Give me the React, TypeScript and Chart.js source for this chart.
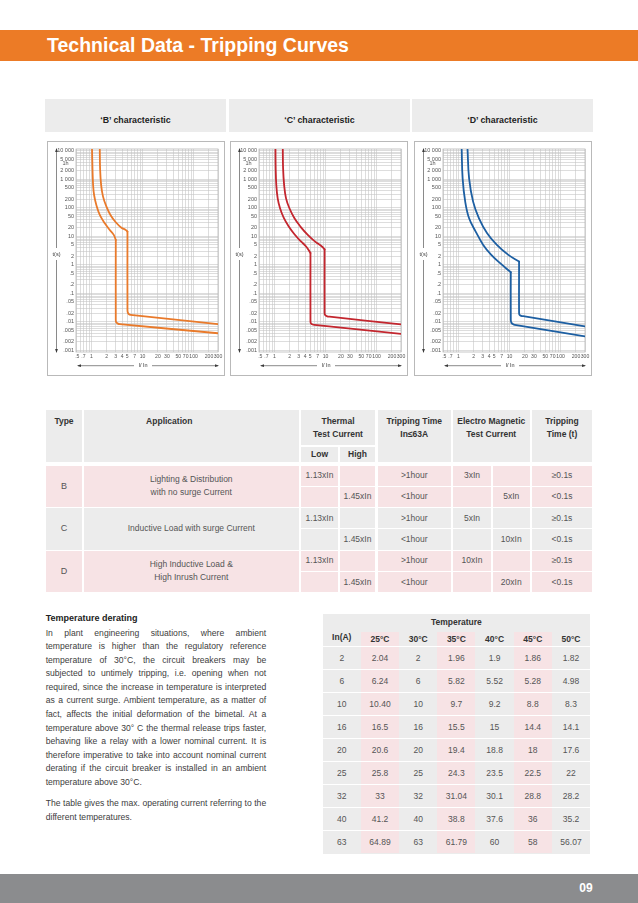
import React, { useEffect, useRef } from 'react';
import { Chart, registerables } from 'chart.js';
Chart.register(...registerables);

const FONT = "'Liberation Sans', Arial, Helvetica, sans-serif";

// ---------- axis tick labels ----------
const xTickValues = [0.5, 0.7, 1, 2, 3, 4, 5, 7, 10, 20, 30, 50, 70, 100, 200, 300];
const xTickText = ['\u2002.5', '.7', '1', '2', '3', '4', '5', '7', '10', '20', '30', '50', '70', '100', '200', '300'];
const yTickValues = [10000, 5000, 3600, 2000, 1000, 500, 200, 100, 50, 20, 10, 5, 2, 1, 0.5, 0.2, 0.1, 0.05, 0.02, 0.01, 0.005, 0.002, 0.001];
const yTickText = ['10 000', '5 000', '1h\u2002\u2002', '2 000', '1 000', '500', '200', '100', '50', '20', '10', '5', '2', '1', '.5', '.2', '.1', '.05', '.02', '.01', '.005', '.002', '.001'];

// ---------- tripping curves (I/In , t in s): thermal part, then magnetic part ----------
const bLowThermX = [1.03, 1.05, 1.08, 1.13, 1.25, 1.46, 1.83, 2.29, 2.74, 3.0];
const bLowThermY = [11000, 2400, 630, 280, 125, 56, 28.6, 16.7, 11.2, 7.5];
const bLowMagX = [3.0, 3.0, 3.06, 3.3, 3.6, 300];
const bLowMagY = [7.5, 0.0117, 0.0097, 0.0087, 0.0083, 0.004];
const bHighThermX = [1.46, 1.48, 1.55, 1.69, 1.97, 2.36, 3.0, 3.87, 4.7, 5.08];
const bHighThermY = [11000, 2400, 630, 245, 109, 56, 31, 20, 16.7, 14.6];
const bHighMagX = [5.08, 5.08, 5.2, 5.6, 6.5, 300];
const bHighMagY = [14.6, 0.026, 0.0205, 0.018, 0.0172, 0.0083];

const cLowThermX = [1.05, 1.06, 1.09, 1.16, 1.29, 1.52, 1.91, 2.47, 3.23, 4.17, 5.08];
const cLowThermY = [11000, 2400, 630, 214, 96, 45, 22, 11.8, 6.9, 4.4, 2.6];
const cLowMagX = [5.08, 5.08, 5.2, 5.6, 6.1, 300];
const cLowMagY = [2.6, 0.0103, 0.0088, 0.0081, 0.0079, 0.0038];
const cHighThermX = [1.46, 1.48, 1.55, 1.69, 1.97, 2.47, 3.23, 4.5, 6.27, 8.5, 9.6];
const cHighThermY = [11000, 2400, 630, 214, 96, 42.7, 21.9, 11.2, 6.5, 4.4, 3.5];
const cHighMagX = [9.6, 9.6, 9.9, 10.8, 12, 300];
const cHighMagY = [3.5, 0.0202, 0.0172, 0.0157, 0.0152, 0.0082];

const dLowThermX = [1.16, 1.21, 1.36, 1.62, 2.18, 3.06, 4.4, 6.56, 10.6];
const dLowThermY = [11000, 1070, 164, 42.7, 14.6, 5.0, 2.23, 1.14, 0.55];
const dLowMagX = [10.6, 10.6, 10.9, 11.8, 12.7, 300];
const dLowMagY = [0.55, 0.0118, 0.0093, 0.0082, 0.0078, 0.0031];
const dHighThermX = [1.51, 1.62, 1.94, 2.53, 3.65, 5.66, 9.5, 15.4];
const dHighThermY = [11000, 1070, 164, 42.7, 12.8, 5.0, 2.23, 1.3];
const dHighMagX = [15.4, 15.4, 15.9, 17.5, 19.8, 300];
const dHighMagY = [1.3, 0.0202, 0.0172, 0.016, 0.0157, 0.0069];

const chartTitles = ['\u2018B\u2019 characteristic', '\u2018C\u2019 characteristic', '\u2018D\u2019 characteristic'];
const curveColors = ['#e97a2b', '#c3262e', '#1d5fa2'];

// ---------- table 1 ----------
const typeNames = ['B', 'C', 'D'];
const applications = [['Lighting & Distribution', 'with no surge Current'], ['Inductive Load with surge Current'], ['High Inductive Load &', 'High Inrush Current']];
const thermalLow = ['1.13xIn', '1.13xIn', '1.13xIn'];
const thermalHigh = ['1.45xIn', '1.45xIn', '1.45xIn'];
const tripThermal = ['>1hour', '<1hour'];
const emLow = ['3xIn', '5xIn', '10xIn'];
const emHigh = ['5xIn', '10xIn', '20xIn'];
const tripEM = ['\u22650.1s', '<0.1s'];

// ---------- temperature table ----------
const ratingsA = ['2', '6', '10', '16', '20', '25', '32', '40', '63'];
const tempHeaders = ['25°C', '30°C', '35°C', '40°C', '45°C', '50°C'];
const derate25 = ['2.04', '6.24', '10.40', '16.5', '20.6', '25.8', '33', '41.2', '64.89'];
const derate30 = ['2', '6', '10', '16', '20', '25', '32', '40', '63'];
const derate35 = ['1.96', '5.82', '9.7', '15.5', '19.4', '24.3', '31.04', '38.8', '61.79'];
const derate40 = ['1.9', '5.52', '9.2', '15', '18.8', '23.5', '30.1', '37.6', '60'];
const derate45 = ['1.86', '5.28', '8.8', '14.4', '18', '22.5', '28.8', '36', '58'];
const derate50 = ['1.82', '4.98', '8.3', '14.1', '17.6', '22', '28.2', '35.2', '56.07'];

const paragraph1 = [
  'In plant engineering situations, where ambient',
  'temperature is higher than the regulatory reference',
  'temperature of 30°C, the circuit breakers may be',
  'subjected to untimely tripping, i.e. opening when not',
  'required, since the increase in temperature is interpreted',
  'as a current surge. Ambient temperature, as a matter of',
  'fact, affects the initial deformation of the bimetal. At a',
  'temperature above 30° C the thermal release trips faster,',
  'behaving like a relay with a lower nominal current. It is',
  'therefore imperative to take into account nominal current',
  'derating if the circuit breaker is installed in an ambient',
  'temperature above 30°C.',
];
const paragraph2 = ['The table gives the max. operating current referring to the', 'different temperatures.'];

// ---------- helpers ----------
const xGrid: number[] = [];
[0.1, 1, 10, 100].forEach((d) => {
  for (let m = 1; m <= 9; m++) {
    const v = +(m * d).toPrecision(4);
    if (v >= 0.5 && v <= 300) xGrid.push(v);
  }
});
const yGrid: number[] = [];
[0.001, 0.01, 0.1, 1, 10, 100, 1000].forEach((d) => {
  for (let m = 1; m <= 9; m++) yGrid.push(+(m * d).toPrecision(4));
});
yGrid.push(10000, 3600);

function lookup(values: number[], texts: string[], v: number) {
  const i = values.findIndex((t) => Math.abs(t - v) <= t * 1e-6);
  return i >= 0 ? texts[i] : '';
}

const framePlugin = {
  id: 'frameArrows',
  beforeDatasetsDraw(chart: any) {
    const { ctx, chartArea: a } = chart;
    ctx.save();
    ctx.strokeStyle = '#b8b8b8';
    ctx.lineWidth = 0.8;
    ctx.strokeRect(a.left, a.top, a.right - a.left, a.bottom - a.top);
    ctx.restore();
  },
  afterDraw(chart: any) {
    const { ctx, chartArea: a } = chart;
    ctx.save();
    ctx.strokeStyle = '#3a3a3a';
    ctx.fillStyle = '#3a3a3a';
    ctx.lineWidth = 0.6;
    const seg = (x1: number, y1: number, x2: number, y2: number) => {
      ctx.beginPath();
      ctx.moveTo(x1, y1);
      ctx.lineTo(x2, y2);
      ctx.stroke();
    };
    const tri = (p: number[][]) => {
      ctx.beginPath();
      ctx.moveTo(p[0][0], p[0][1]);
      ctx.lineTo(p[1][0], p[1][1]);
      ctx.lineTo(p[2][0], p[2][1]);
      ctx.closePath();
      ctx.fill();
    };
    // vertical time arrow
    const ax = 8.5;
    const my = 112;
    seg(ax, a.top, ax, my - 6);
    seg(ax, my + 6, ax, a.bottom);
    tri([[ax, a.top - 1], [ax - 1.4, a.top + 3], [ax + 1.4, a.top + 3]]);
    tri([[ax, a.bottom + 1], [ax - 1.4, a.bottom - 3], [ax + 1.4, a.bottom - 3]]);
    ctx.font = `5.5px ${FONT}`;
    ctx.textAlign = 'center';
    ctx.textBaseline = 'middle';
    ctx.fillText('t(s)', ax, my);
    // horizontal current arrow
    const ay = a.bottom + 13.7;
    const mx = (a.left + a.right) / 2 - 4;
    seg(a.left + 2, ay, mx - 9, ay);
    seg(mx + 9, ay, a.right, ay);
    tri([[a.left + 1, ay], [a.left + 5, ay - 1.4], [a.left + 5, ay + 1.4]]);
    tri([[a.right + 1, ay], [a.right - 3, ay - 1.4], [a.right - 3, ay + 1.4]]);
    ctx.fillText('I/ In', mx, ay);
    ctx.restore();
  },
};

function TripChart(props: { parts: number[][][]; color: string }) {
  const ref = useRef<HTMLCanvasElement>(null);
  useEffect(() => {
    const pts = (xs: number[], ys: number[]) => xs.map((x, i) => ({ x, y: ys[i] }));
    const ds = (xs: number[], ys: number[], tension: number) => ({
      data: pts(xs, ys),
      showLine: true,
      borderColor: props.color,
      backgroundColor: props.color,
      borderWidth: 1.8,
      pointRadius: 0,
      tension,
      fill: false,
      borderCapStyle: 'round',
      borderJoinStyle: 'round',
    });
    const gridColor = (ctx: any) => (ctx.tick && Math.abs(ctx.tick.value - 3600) < 1 ? 'rgba(0,0,0,0)' : '#c6c6c6');
    const datasets = props.parts.map((p, i) => ds(p[0], p[1], i % 2 === 0 ? 0.4 : 0.25));
    const chart = new Chart(ref.current as HTMLCanvasElement, {
      type: 'scatter',
      data: { datasets },
      options: {
        animation: false,
        responsive: false,
        maintainAspectRatio: false,
        devicePixelRatio: 1,
        events: [],
        layout: { padding: { top: 7, right: 6, left: 0, bottom: 0 }, autoPadding: false },
        plugins: { legend: { display: false }, tooltip: { enabled: false }, title: { display: false } },
        scales: {
          x: {
            type: 'logarithmic',
            min: 0.5,
            max: 300,
            afterBuildTicks: (s: any) => {
              s.ticks = xGrid.map((v) => ({ value: v }));
            },
            afterFit: (s: any) => {
              s.height = 23;
              s.paddingLeft = 0;
              s.paddingRight = 0;
            },
            border: { display: false },
            grid: { color: '#c6c6c6', lineWidth: 0.6, drawTicks: false },
            ticks: {
              autoSkip: false,
              maxRotation: 0,
              minRotation: 0,
              padding: 2,
              color: '#555',
              font: { family: FONT, size: 5.1 },
              callback: (v: any) => lookup(xTickValues, xTickText, Number(v)),
            },
          },
          y: {
            type: 'logarithmic',
            min: 0.00088,
            max: 11470,
            afterBuildTicks: (s: any) => {
              s.ticks = yGrid.map((v) => ({ value: v }));
            },
            afterFit: (s: any) => {
              s.width = 28;
              s.paddingTop = 0;
              s.paddingBottom = 0;
            },
            border: { display: false },
            grid: { color: gridColor, lineWidth: 0.6, drawTicks: false },
            ticks: {
              autoSkip: false,
              padding: 2,
              color: '#555',
              font: { family: FONT, size: 5.5 },
              callback: (v: any) => lookup(yTickValues, yTickText, Number(v)),
            },
          },
        },
      } as any,
      plugins: [framePlugin],
    });
    return () => chart.destroy();
  }, []);
  return <canvas ref={ref} width={176} height={233} style={{ position: 'absolute', left: 0, top: 0, width: 176, height: 233 }} />;
}

const abs = (left: number, top: number, width: number, height: number, extra: any = {}) => ({
  position: 'absolute' as const,
  left,
  top,
  width,
  height,
  boxSizing: 'border-box' as const,
  ...extra,
});

const GRAY = '#ececec';
const PINK = '#f7e3e5';

function Cell(props: { x0: number; x1: number; y0: number; y1: number; bg: string; children?: any; style?: any }) {
  const { x0, x1, y0, y1, bg, children, style } = props;
  return (
    <div
      style={abs(x0, y0, x1 - x0, y1 - y0, {
        background: bg,
        display: 'flex',
        flexDirection: 'column',
        alignItems: 'center',
        justifyContent: 'center',
        textAlign: 'center',
        fontSize: 8.5,
        lineHeight: '13px',
        color: '#555',
        ...style,
      })}
    >
      {children}
    </div>
  );
}

export default function App() {
  const headerLefts = [45, 229, 412];
  const headerWidths = [181, 181, 181];
  const boxLefts = [47, 230, 414];
  const curves = [
    [[bLowThermX, bLowThermY], [bLowMagX, bLowMagY], [bHighThermX, bHighThermY], [bHighMagX, bHighMagY]],
    [[cLowThermX, cLowThermY], [cLowMagX, cLowMagY], [cHighThermX, cHighThermY], [cHighMagX, cHighMagY]],
    [[dLowThermX, dLowThermY], [dLowMagX, dLowMagY], [dHighThermX, dHighThermY], [dHighMagX, dHighMagY]],
  ];

  // table 1 geometry
  const C = [[46, 82], [84, 298.5], [301, 338], [340, 375], [378, 450.5], [453, 491], [493, 529.5], [532, 592]];
  const HT = 410, HM = 445, HS = 447, HB = 462;
  const rows = [0, 1, 2, 3, 4, 5].map((i) => [465.5 + 21.3 * i, 465.5 + 21.3 * i + 20.3]);
  const rowBg = [PINK, GRAY, PINK];
  const headStyle = { justifyContent: 'flex-start', paddingTop: 4.5, fontWeight: 700, color: '#333' };

  // temperature table geometry
  const TL = 322.7, TW = 38.2, TT = 614;
  const colsT = [derate25, derate30, derate35, derate40, derate45, derate50];

  return (
    <div style={{ position: 'absolute', left: 0, top: 0, width: 638, height: 903, background: '#fff', fontFamily: FONT, overflow: 'hidden' }}>
      {/* title bar */}
      <div style={abs(0, 30, 638, 31, { background: '#ec7b26' })} />
      <div style={{ position: 'absolute', left: 47, top: 30, height: 31, lineHeight: '31px', fontSize: 19.5, fontWeight: 700, color: '#fff', whiteSpace: 'nowrap' }}>
        Technical Data - Tripping Curves
      </div>

      {/* chart headers */}
      {chartTitles.map((t, i) => (
        <div key={t} style={abs(headerLefts[i], 99, headerWidths[i], 33, { background: GRAY, textAlign: 'center', paddingTop: 15, lineHeight: '12px', fontSize: 8.8, fontWeight: 700, color: '#222' })}>
          {t}
        </div>
      ))}

      {/* charts */}
      {curves.map((c, i) => (
        <div key={i} style={abs(boxLefts[i], 141, 178, 235, { border: '1px solid #b9b9b9' })}>
          <TripChart parts={c} color={curveColors[i]} />
        </div>
      ))}

      {/* table 1 header */}
      <Cell x0={C[0][0]} x1={C[0][1]} y0={HT} y1={HB} bg={GRAY} style={headStyle}>Type</Cell>
      <Cell x0={C[1][0]} x1={C[1][1]} y0={HT} y1={HB} bg={GRAY} style={{ ...headStyle, paddingRight: 44 }}>Application</Cell>
      <Cell x0={C[2][0]} x1={C[3][1]} y0={HT} y1={HM} bg={GRAY} style={headStyle}>
        <div>Thermal</div>
        <div>Test Current</div>
      </Cell>
      <Cell x0={C[2][0]} x1={C[2][1]} y0={HS} y1={HB} bg={GRAY} style={{ fontWeight: 700, color: '#333' }}>Low</Cell>
      <Cell x0={C[3][0]} x1={C[3][1]} y0={HS} y1={HB} bg={GRAY} style={{ fontWeight: 700, color: '#333' }}>High</Cell>
      <Cell x0={C[4][0]} x1={C[4][1]} y0={HT} y1={HB} bg={GRAY} style={headStyle}>
        <div>Tripping Time</div>
        <div>In≤63A</div>
      </Cell>
      <Cell x0={C[5][0]} x1={C[6][1]} y0={HT} y1={HB} bg={GRAY} style={headStyle}>
        <div>Electro Magnetic</div>
        <div>Test Current</div>
      </Cell>
      <Cell x0={C[7][0]} x1={C[7][1]} y0={HT} y1={HB} bg={GRAY} style={headStyle}>
        <div>Tripping</div>
        <div>Time (t)</div>
      </Cell>

      {/* table 1 body */}
      {typeNames.map((tn, k) => {
        const r1 = rows[2 * k], r2 = rows[2 * k + 1];
        const bg = rowBg[k];
        return (
          <React.Fragment key={tn}>
            <Cell x0={C[0][0]} x1={C[0][1]} y0={r1[0]} y1={r2[1]} bg={bg} style={{ fontSize: 9 }}>{tn}</Cell>
            <Cell x0={C[1][0]} x1={C[1][1]} y0={r1[0]} y1={r2[1]} bg={bg}>
              {applications[k].map((l) => <div key={l}>{l}</div>)}
            </Cell>
            <Cell x0={C[2][0]} x1={C[2][1]} y0={r1[0]} y1={r1[1]} bg={bg}>{thermalLow[k]}</Cell>
            <Cell x0={C[3][0]} x1={C[3][1]} y0={r1[0]} y1={r1[1]} bg={bg} />
            <Cell x0={C[4][0]} x1={C[4][1]} y0={r1[0]} y1={r1[1]} bg={bg}>{tripThermal[0]}</Cell>
            <Cell x0={C[5][0]} x1={C[5][1]} y0={r1[0]} y1={r1[1]} bg={bg}>{emLow[k]}</Cell>
            <Cell x0={C[6][0]} x1={C[6][1]} y0={r1[0]} y1={r1[1]} bg={bg} />
            <Cell x0={C[7][0]} x1={C[7][1]} y0={r1[0]} y1={r1[1]} bg={bg}>{tripEM[0]}</Cell>
            <Cell x0={C[2][0]} x1={C[2][1]} y0={r2[0]} y1={r2[1]} bg={bg} />
            <Cell x0={C[3][0]} x1={C[3][1]} y0={r2[0]} y1={r2[1]} bg={bg}>{thermalHigh[k]}</Cell>
            <Cell x0={C[4][0]} x1={C[4][1]} y0={r2[0]} y1={r2[1]} bg={bg}>{tripThermal[1]}</Cell>
            <Cell x0={C[5][0]} x1={C[5][1]} y0={r2[0]} y1={r2[1]} bg={bg} />
            <Cell x0={C[6][0]} x1={C[6][1]} y0={r2[0]} y1={r2[1]} bg={bg}>{emHigh[k]}</Cell>
            <Cell x0={C[7][0]} x1={C[7][1]} y0={r2[0]} y1={r2[1]} bg={bg}>{tripEM[1]}</Cell>
          </React.Fragment>
        );
      })}

      {/* temperature derating text */}
      <div style={{ position: 'absolute', left: 45.7, top: 611.5, lineHeight: '13px', fontSize: 9, fontWeight: 700, color: '#222', whiteSpace: 'nowrap' }}>
        Temperature derating
      </div>
      <div style={{ position: 'absolute', left: 45.7, top: 626.5, width: 220.5, fontSize: 8.6, lineHeight: '13.58px', color: '#3d3d3d' }}>
        {paragraph1.map((l, i) => (
          <div key={i} style={{ textAlign: 'justify', textAlignLast: i === paragraph1.length - 1 ? 'left' : 'justify', whiteSpace: 'nowrap' }}>
            {l}
          </div>
        ))}
      </div>
      <div style={{ position: 'absolute', left: 45.7, top: 795.7, width: 220.5, fontSize: 8.6, lineHeight: '14px', color: '#3d3d3d' }}>
        {paragraph2.map((l, i) => (
          <div key={i} style={{ textAlign: 'justify', textAlignLast: i === 0 ? 'justify' : 'left', whiteSpace: 'nowrap' }}>
            {l}
          </div>
        ))}
      </div>

      {/* temperature table */}
      <div style={abs(TL, TT, TW * 7, 240, { background: GRAY })} />
      <div style={abs(TL, 646, TW * 7, 1.4, { background: '#fff' })} />
      {[1, 2, 3, 4, 5, 6, 7, 8].map((i) => (
        <div key={i} style={abs(TL, 647.3 + 23 * i - 1, TW * 7, 1, { background: '#fff' })} />
      ))}
      {[0, 2, 4].map((c) => (
        <div key={'hp' + c} style={abs(TL + TW * (c + 1), 631.7, TW, 14.3, { background: PINK })} />
      ))}
      {ratingsA.map((_, r) =>
        [0, 2, 4].map((c) => <div key={'p' + r + c} style={abs(TL + TW * (c + 1), 647.3 + 23 * r, TW, 22, { background: PINK })} />)
      )}
      <div style={abs(TL, 615, TW * 7, 15, { textAlign: 'center', fontSize: 8.5, fontWeight: 700, color: '#333', lineHeight: '15px' })}>Temperature</div>
      <div style={abs(TL, 629.5, TW, 14, { textAlign: 'center', fontSize: 8.5, fontWeight: 700, color: '#333', lineHeight: '14px' })}>In(A)</div>
      {tempHeaders.map((h, c) => (
        <div key={h} style={abs(TL + TW * (c + 1), 632, TW, 14, { textAlign: 'center', fontSize: 8.5, fontWeight: 700, color: '#333', lineHeight: '14px' })}>
          {h}
        </div>
      ))}
      {ratingsA.map((a, r) => (
        <React.Fragment key={'r' + r}>
          <div style={abs(TL, 647.3 + 23 * r, TW, 22, { textAlign: 'center', fontSize: 8.5, color: '#555', lineHeight: '22px' })}>{a}</div>
          {colsT.map((col, c) => (
            <div key={c} style={abs(TL + TW * (c + 1), 647.3 + 23 * r, TW, 22, { textAlign: 'center', fontSize: 8.5, color: '#555', lineHeight: '22px' })}>
              {col[r]}
            </div>
          ))}
        </React.Fragment>
      ))}

      {/* footer */}
      <div style={abs(0, 874, 638, 29, { background: '#8b8c8e' })} />
      <div style={abs(566, 874, 40, 28, { textAlign: 'center', lineHeight: '28px', fontSize: 12, fontWeight: 700, color: '#fff' })}>09</div>
    </div>
  );
}
